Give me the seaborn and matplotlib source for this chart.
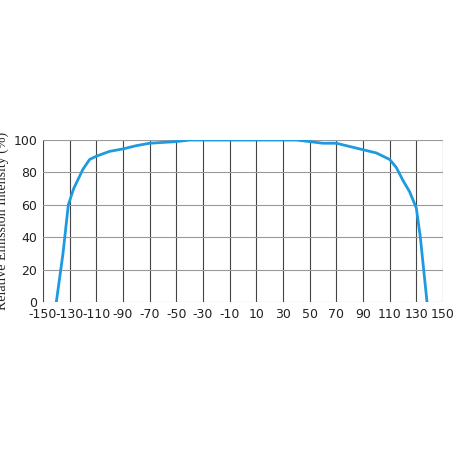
import matplotlib
matplotlib.use("Agg")
import matplotlib.pyplot as plt
import seaborn as sns
import pandas as pd

angle = [-140, -135, -131, -127, -120, -115, -110, -100, -90, -80, -70, -50, -40, 0, 40, 50, 60, 70, 80, 90, 100, 110, 115, 120, 125, 130, 133, 138]
intensity = [0, 30, 60, 70, 82, 88, 90, 93, 94.5, 96.5, 98, 99, 100, 100, 100, 99, 98, 98, 96, 94, 92, 88, 83, 75, 68, 58, 40, 0]
xticks = list(range(-150, 151, 20))
yticks = [0, 20, 40, 60, 80, 100]

df = pd.DataFrame({"angle": angle, "intensity": intensity})
sns.set_style("white")
plt.rcParams["axes.unicode_minus"] = False
fig = plt.figure(figsize=(4.58, 4.58), dpi=100)
ax = fig.add_axes([43/458, 1-302/458, 400/458, 162/458])
for x in xticks:
    ax.axvline(x, color="#444444", lw=0.8, zorder=0)
for y in yticks:
    ax.axhline(y, color="#999999", lw=0.8, zorder=0)
sns.lineplot(data=df, x="angle", y="intensity", color="#1e9be0", lw=2, ax=ax)
ax.set_xlim(-150, 150)
ax.set_ylim(0, 100)
ax.set_xticks(xticks)
ax.set_yticks(yticks)
ax.tick_params(length=0, labelsize=9, colors="#222222", pad=4)
for s in ax.spines.values():
    s.set_visible(False)
ax.set_xlabel("")
ax.set_ylabel("Relative Emission Intensity (%)", family="Liberation Serif", fontsize=10, labelpad=3)
fig.savefig("out.png", dpi=100)
